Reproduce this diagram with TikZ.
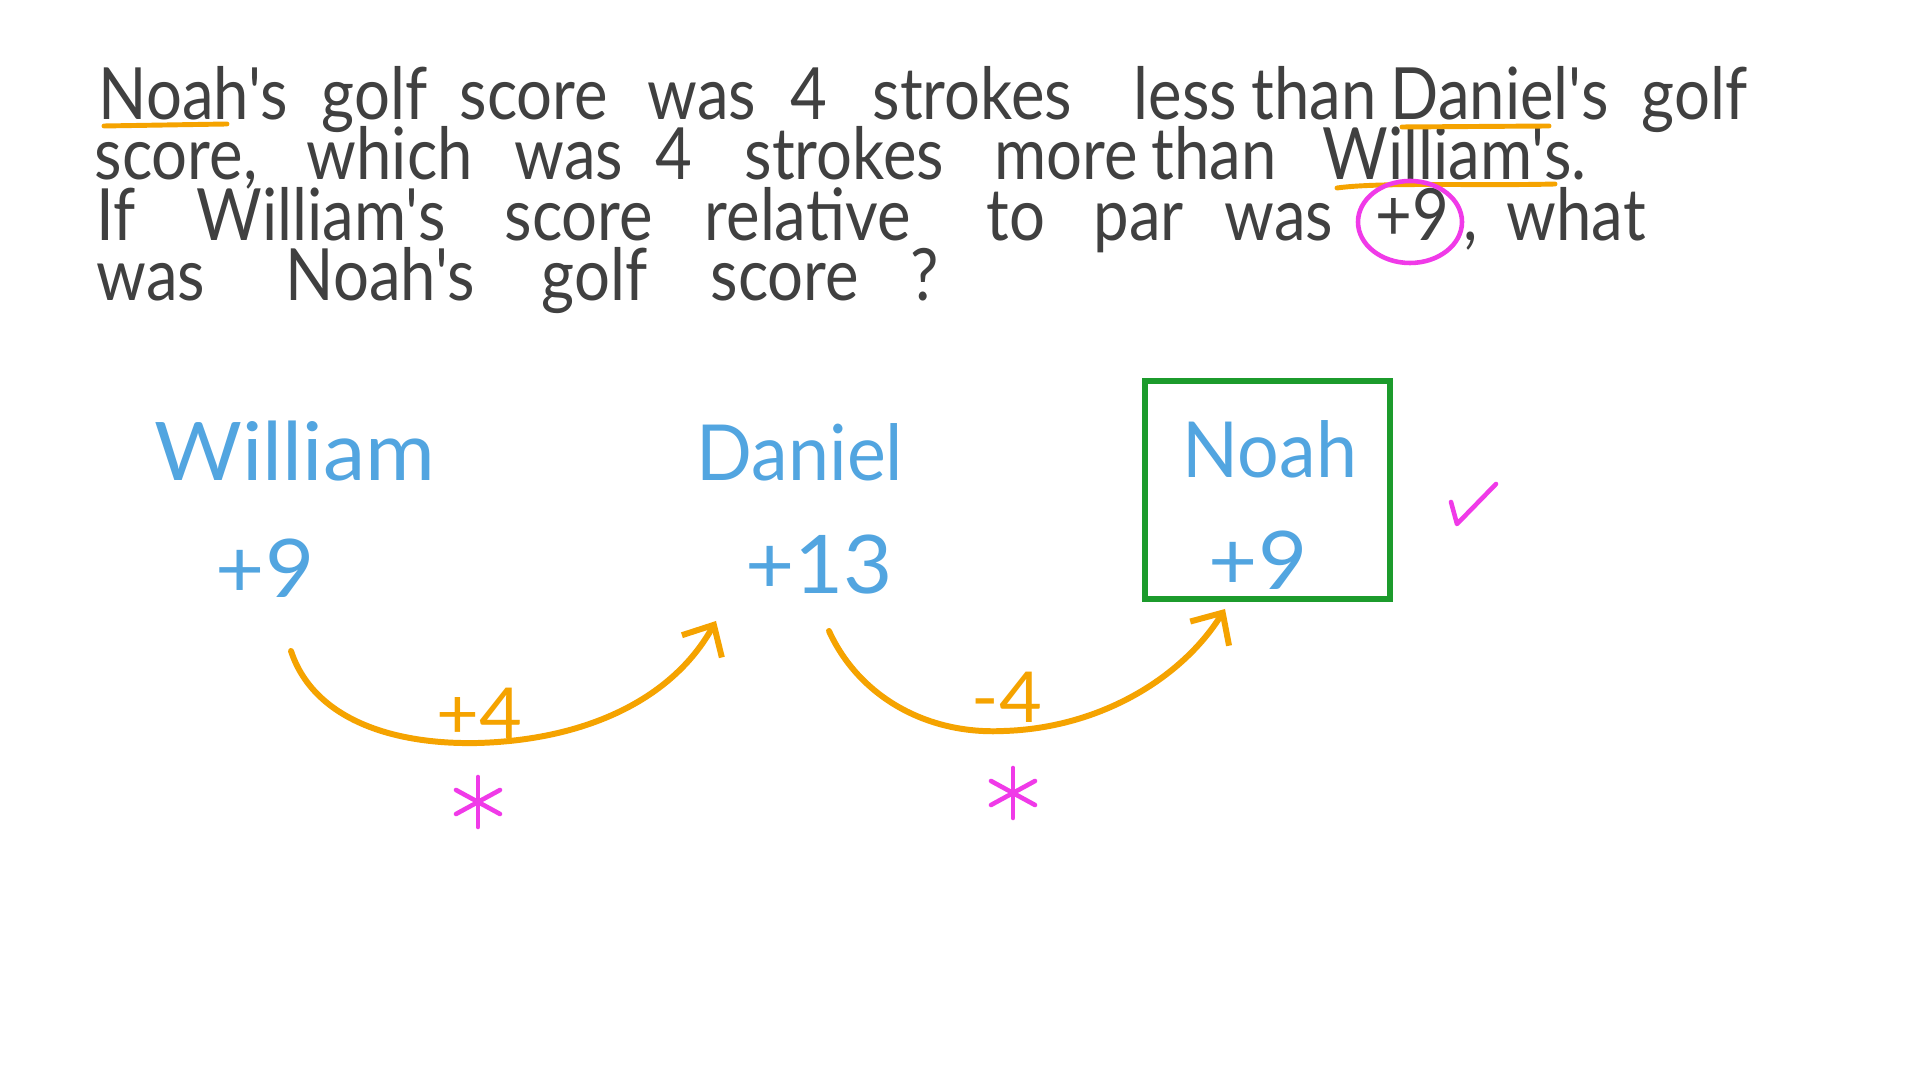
\documentclass[tikz,border=0pt]{standalone}
\usepackage{fontspec}
\setmainfont{Lato}
\newfontfamily\handfont[FakeStretch=0.88]{Lato}
\newfontfamily\bluefont[FakeStretch=1.05]{Lato}
\newfontfamily\namefont[FakeStretch=0.95]{Lato}
\usetikzlibrary{arrows.meta}
\definecolor{ink}{HTML}{404040}
\definecolor{sky}{HTML}{52A5E0}
\definecolor{amber}{HTML}{F5A300}
\definecolor{pinkm}{HTML}{F03AE8}
\definecolor{grn}{HTML}{1C9B2C}
\begin{document}
\begin{tikzpicture}[x=0.01cm,y=-0.01cm,
  word/.style={anchor=base west, inner sep=0pt, text=ink, font=\handfont\fontsize{20.5}{23}\selectfont},
  bluename/.style={anchor=base, inner sep=0pt, text=sky, font=\bluefont\fontsize{23}{26}\selectfont},
  bluename2/.style={anchor=base, inner sep=0pt, text=sky, font=\namefont\fontsize{22}{25}\selectfont},
  bluenum/.style={anchor=base, inner sep=0pt, text=sky, font=\bluefont\fontsize{23}{26}\selectfont},
  orangenum/.style={anchor=center, inner sep=0pt, text=amber, font=\bluefont\fontsize{20}{23}\selectfont},
  uline/.style={draw=amber, line width=1.4pt, line cap=round},
  jump/.style={draw=amber, line width=1.7pt, line cap=round,
     -{Straight Barb[length=7pt,width=13pt,line width=1.7pt]}},
  pinkstroke/.style={draw=pinkm, line width=1.3pt, line cap=round, line join=round},
  greenbox/.style={draw=grn, line width=1.8pt, inner sep=0pt, minimum width=2.45cm, minimum height=2.18cm}
]
\useasboundingbox[fill=white] (0,0) rectangle (1920,1080);

% ---- question text ----
\node[word] (a1) at (98,120) {Noah's};
\node[word] (a2) at (321,120) {golf};
\node[word] (a3) at (459,120) {score};
\node[word] (a4) at (647,120) {was};
\node[word] (a5) at (790,120) {4};
\node[word] (a6) at (872,120) {strokes};
\node[word] (a7) at (1133,120) {less};
\node[word] (a8) at (1251,120) {than};
\node[word] (a9) at (1390,120) {Daniel's};
\node[word] (a10) at (1641,120) {golf};

\node[word] (b1) at (94,180) {score,};
\node[word] (b2) at (306,180) {which};
\node[word] (b3) at (514,180) {was};
\node[word] (b4) at (655,180) {4};
\node[word] (b5) at (744,180) {strokes};
\node[word] (b6) at (994,180) {more};
\node[word] (b7) at (1151,180) {than};
\node[word] (b8) at (1322,180) {William's.};

\node[word] (c1) at (96,241) {If};
\node[word] (c2) at (196,241) {William's};
\node[word] (c3) at (504,241) {score};
\node[word] (c4) at (704,241) {relative};
\node[word] (c5) at (986,241) {to};
\node[word] (c6) at (1093,241) {par};
\node[word] (c7) at (1224,241) {was};
\node[word] (c8) at (1375,241) {+9};
\node[word] (c9) at (1463,241) {,};
\node[word] (c10) at (1506,241) {what};

\node[word] (d1) at (96,301) {was};
\node[word] (d2) at (285,301) {Noah's};
\node[word] (d3) at (541,301) {golf};
\node[word] (d4) at (710,301) {score};
\node[word] (d5) at (910,301) {?};

% underlines and circle
\draw[uline] (104,126) -- (227,124);
\draw[uline] (1402,127) -- (1549,126);
\draw[uline] (1337,188) .. controls (1380,182) and (1480,186) .. (1555,184);
\draw[pinkstroke] (1410,222) ellipse [x radius=52, y radius=41];

% ---- diagram ----
\node[bluename] (william) at (295,481) {William};
\node[bluename2] (daniel) at (800,481) {Daniel};
\node[bluename2] (noah) at (1270,478) {Noah};
\node[bluenum] (wnum) at (265,598) {+9};
\node[bluenum] (dnum) at (819,594) {+13};
\node[bluenum] (nnum) at (1258,590) {+9};
\node[greenbox] (box) at (1267.5,490) {};

\coordinate (s1) at (291,651);
\coordinate (m1) at (478,743);
\coordinate (e1) at (716,621);
\coordinate (s2) at (829,631);
\coordinate (m2) at (1004,731);
\coordinate (e2) at (1225,609);
\draw[jump] (s1) .. controls (312,715) and (385,745) .. (m1) .. controls (585,740) and (672,700) .. (e1);
\draw[jump] (s2) .. controls (858,695) and (925,735) .. (m2) .. controls (1100,728) and (1182,678) .. (e2);

\node[orangenum] (plus4) at (479,713) {+4};
\node[orangenum] (minus4) at (1007,697) {-4};

% asterisks
\foreach \cx/\cy in {478/802, 1013/793}{
  \draw[pinkstroke] (\cx,\cy-25) -- (\cx,\cy+25);
  \draw[pinkstroke] (\cx-22,\cy-12) -- (\cx+22,\cy+12);
  \draw[pinkstroke] (\cx-22,\cy+12) -- (\cx+22,\cy-12);
}
% tick
\draw[pinkstroke] (1451,502) -- (1457,524) -- (1496,484);
\end{tikzpicture}
\end{document}
